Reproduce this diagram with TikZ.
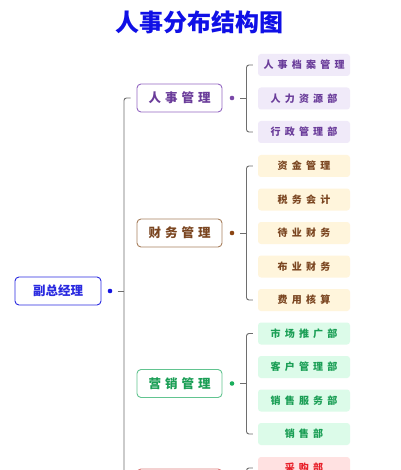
\documentclass[tikz,border=0pt]{standalone}
\usepackage{fontspec}
\setmainfont{Noto Sans CJK SC}
\definecolor{linegray}{HTML}{6E6E6E}
\definecolor{titleblue}{HTML}{1010E6}
\definecolor{rootblue}{HTML}{2A2AE0}
\definecolor{rootdot}{HTML}{1414E0}
\definecolor{purB}{HTML}{9468C2}
\definecolor{purT}{HTML}{6A3C9A}
\definecolor{purF}{HTML}{F0EAF9}
\definecolor{purD}{HTML}{7A48A8}
\definecolor{brB}{HTML}{A8805E}
\definecolor{brT}{HTML}{7A4520}
\definecolor{brF}{HTML}{FFF5DC}
\definecolor{brD}{HTML}{8B4513}
\definecolor{grB}{HTML}{62C490}
\definecolor{grT}{HTML}{1A9E55}
\definecolor{grF}{HTML}{DCFBE9}
\definecolor{grD}{HTML}{1AAE5C}
\definecolor{rdB}{HTML}{E07A7A}
\definecolor{rdT}{HTML}{E8202A}
\definecolor{rdF}{HTML}{FFE1E1}
\definecolor{rdD}{HTML}{E03030}
\newcommand\ga{\hspace{4pt}}
\newcommand\gb{\hspace{4.2pt}}
\begin{document}
\begin{tikzpicture}[x=1pt,y=-1pt,
  conn/.style={draw=linegray, line width=0.9pt},
  rootbox/.style={draw=rootblue, line width=0.9pt, fill=white, rounded corners=4pt,
    minimum width=86pt, minimum height=28pt, inner sep=0pt, text=rootblue,
    font=\fontsize{12.5}{14}\selectfont\bfseries},
  midbox/.style={draw=#1B, line width=0.9pt, fill=white, rounded corners=4pt,
    minimum width=85pt, minimum height=28pt, inner sep=0pt, text=#1T,
    font=\fontsize{12.5}{14}\selectfont\bfseries},
  kidbox/.style={fill=#1F, rounded corners=3pt,
    minimum width=92pt, minimum height=22pt, inner sep=0pt, text=#1T,
    font=\fontsize{10}{12}\selectfont\bfseries},
  dotn/.style={circle, fill=#1, inner sep=0pt, minimum size=4.6pt}]
\useasboundingbox (0,0) rectangle (400,470);
\clip (0,0) rectangle (400,470);
\fill[white] (0,0) rectangle (400,470);

% title
\node[text=titleblue, font=\fontsize{24}{28}\selectfont\bfseries] (title) at (199,22) {人事分布结构图};

% root
\node[rootbox] (root) at (58,291) {副总经理};
\node[dotn=rootdot] (rd) at (110,291) {};
\coordinate (t0) at (124,291);
\draw[conn] ([xshift=5pt]rd.east) -- (t0);

% mid nodes
\node[midbox=pur] (m1) at (179.5,98) {人\ga 事\ga 管\ga 理};
\node[midbox=br]  (m2) at (179.5,233) {财\ga 务\ga 管\ga 理};
\node[midbox=gr]  (m3) at (179.5,383.5) {营\ga 销\ga 管\ga 理};
\node[midbox=rd]  (m4) at (179.5,483) {};

% trunk
\draw[conn, rounded corners=2.5pt] ([xshift=-6pt]m1.west) -| (t0) |- ([xshift=-6pt]m4.west);

% dots
\node[dotn=purD] (d1) at (232,98) {};
\node[dotn=brD]  (d2) at (232,233) {};
\node[dotn=grD]  (d3) at (232,383.5) {};
\node[dotn=rdD]  (d4) at (232,483) {};
\coordinate (b1) at (246.5,98);
\coordinate (b2) at (246.5,233);
\coordinate (b3) at (246.5,383.5);
\coordinate (b4) at (246.5,483);
\draw[conn] ([xshift=5.5pt]d1.east) -- (b1);
\draw[conn] ([xshift=5.5pt]d2.east) -- (b2);
\draw[conn] ([xshift=5.5pt]d3.east) -- (b3);
\draw[conn] ([xshift=5.5pt]d4.east) -- (b4);

% group 1
\node[kidbox=pur] (c11) at (304,65) {人\gb 事\gb 档\gb 案\gb 管\gb 理};
\node[kidbox=pur] (c12) at (304,98.5) {人\gb 力\gb 资\gb 源\gb 部};
\node[kidbox=pur] (c13) at (304,132) {行\gb 政\gb 管\gb 理\gb 部};
\draw[conn, rounded corners=2.5pt] ([xshift=-5pt]c11.west) -| (b1) |- ([xshift=-5pt]c13.west);

% group 2
\node[kidbox=br] (c21) at (304,166) {资\gb 金\gb 管\gb 理};
\node[kidbox=br] (c22) at (304,199.5) {税\gb 务\gb 会\gb 计};
\node[kidbox=br] (c23) at (304,233) {待\gb 业\gb 财\gb 务};
\node[kidbox=br] (c24) at (304,266.5) {布\gb 业\gb 财\gb 务};
\node[kidbox=br] (c25) at (304,300) {费\gb 用\gb 核\gb 算};
\draw[conn, rounded corners=2.5pt] ([xshift=-5pt]c21.west) -| (b2) |- ([xshift=-5pt]c25.west);

% group 3
\node[kidbox=gr] (c31) at (304,333.5) {市\gb 场\gb 推\gb 广\gb 部};
\node[kidbox=gr] (c32) at (304,367) {客\gb 户\gb 管\gb 理\gb 部};
\node[kidbox=gr] (c33) at (304,400.5) {销\gb 售\gb 服\gb 务\gb 部};
\node[kidbox=gr] (c34) at (304,434) {销\gb 售\gb 部};
\draw[conn, rounded corners=2.5pt] ([xshift=-5pt]c31.west) -| (b3) |- ([xshift=-5pt]c34.west);

% group 4
\node[kidbox=rd] (c41) at (304,468) {采\gb 购\gb 部};
\draw[conn, rounded corners=2.5pt] ([xshift=-5pt]c41.west) -| (b4);
\end{tikzpicture}
\end{document}
